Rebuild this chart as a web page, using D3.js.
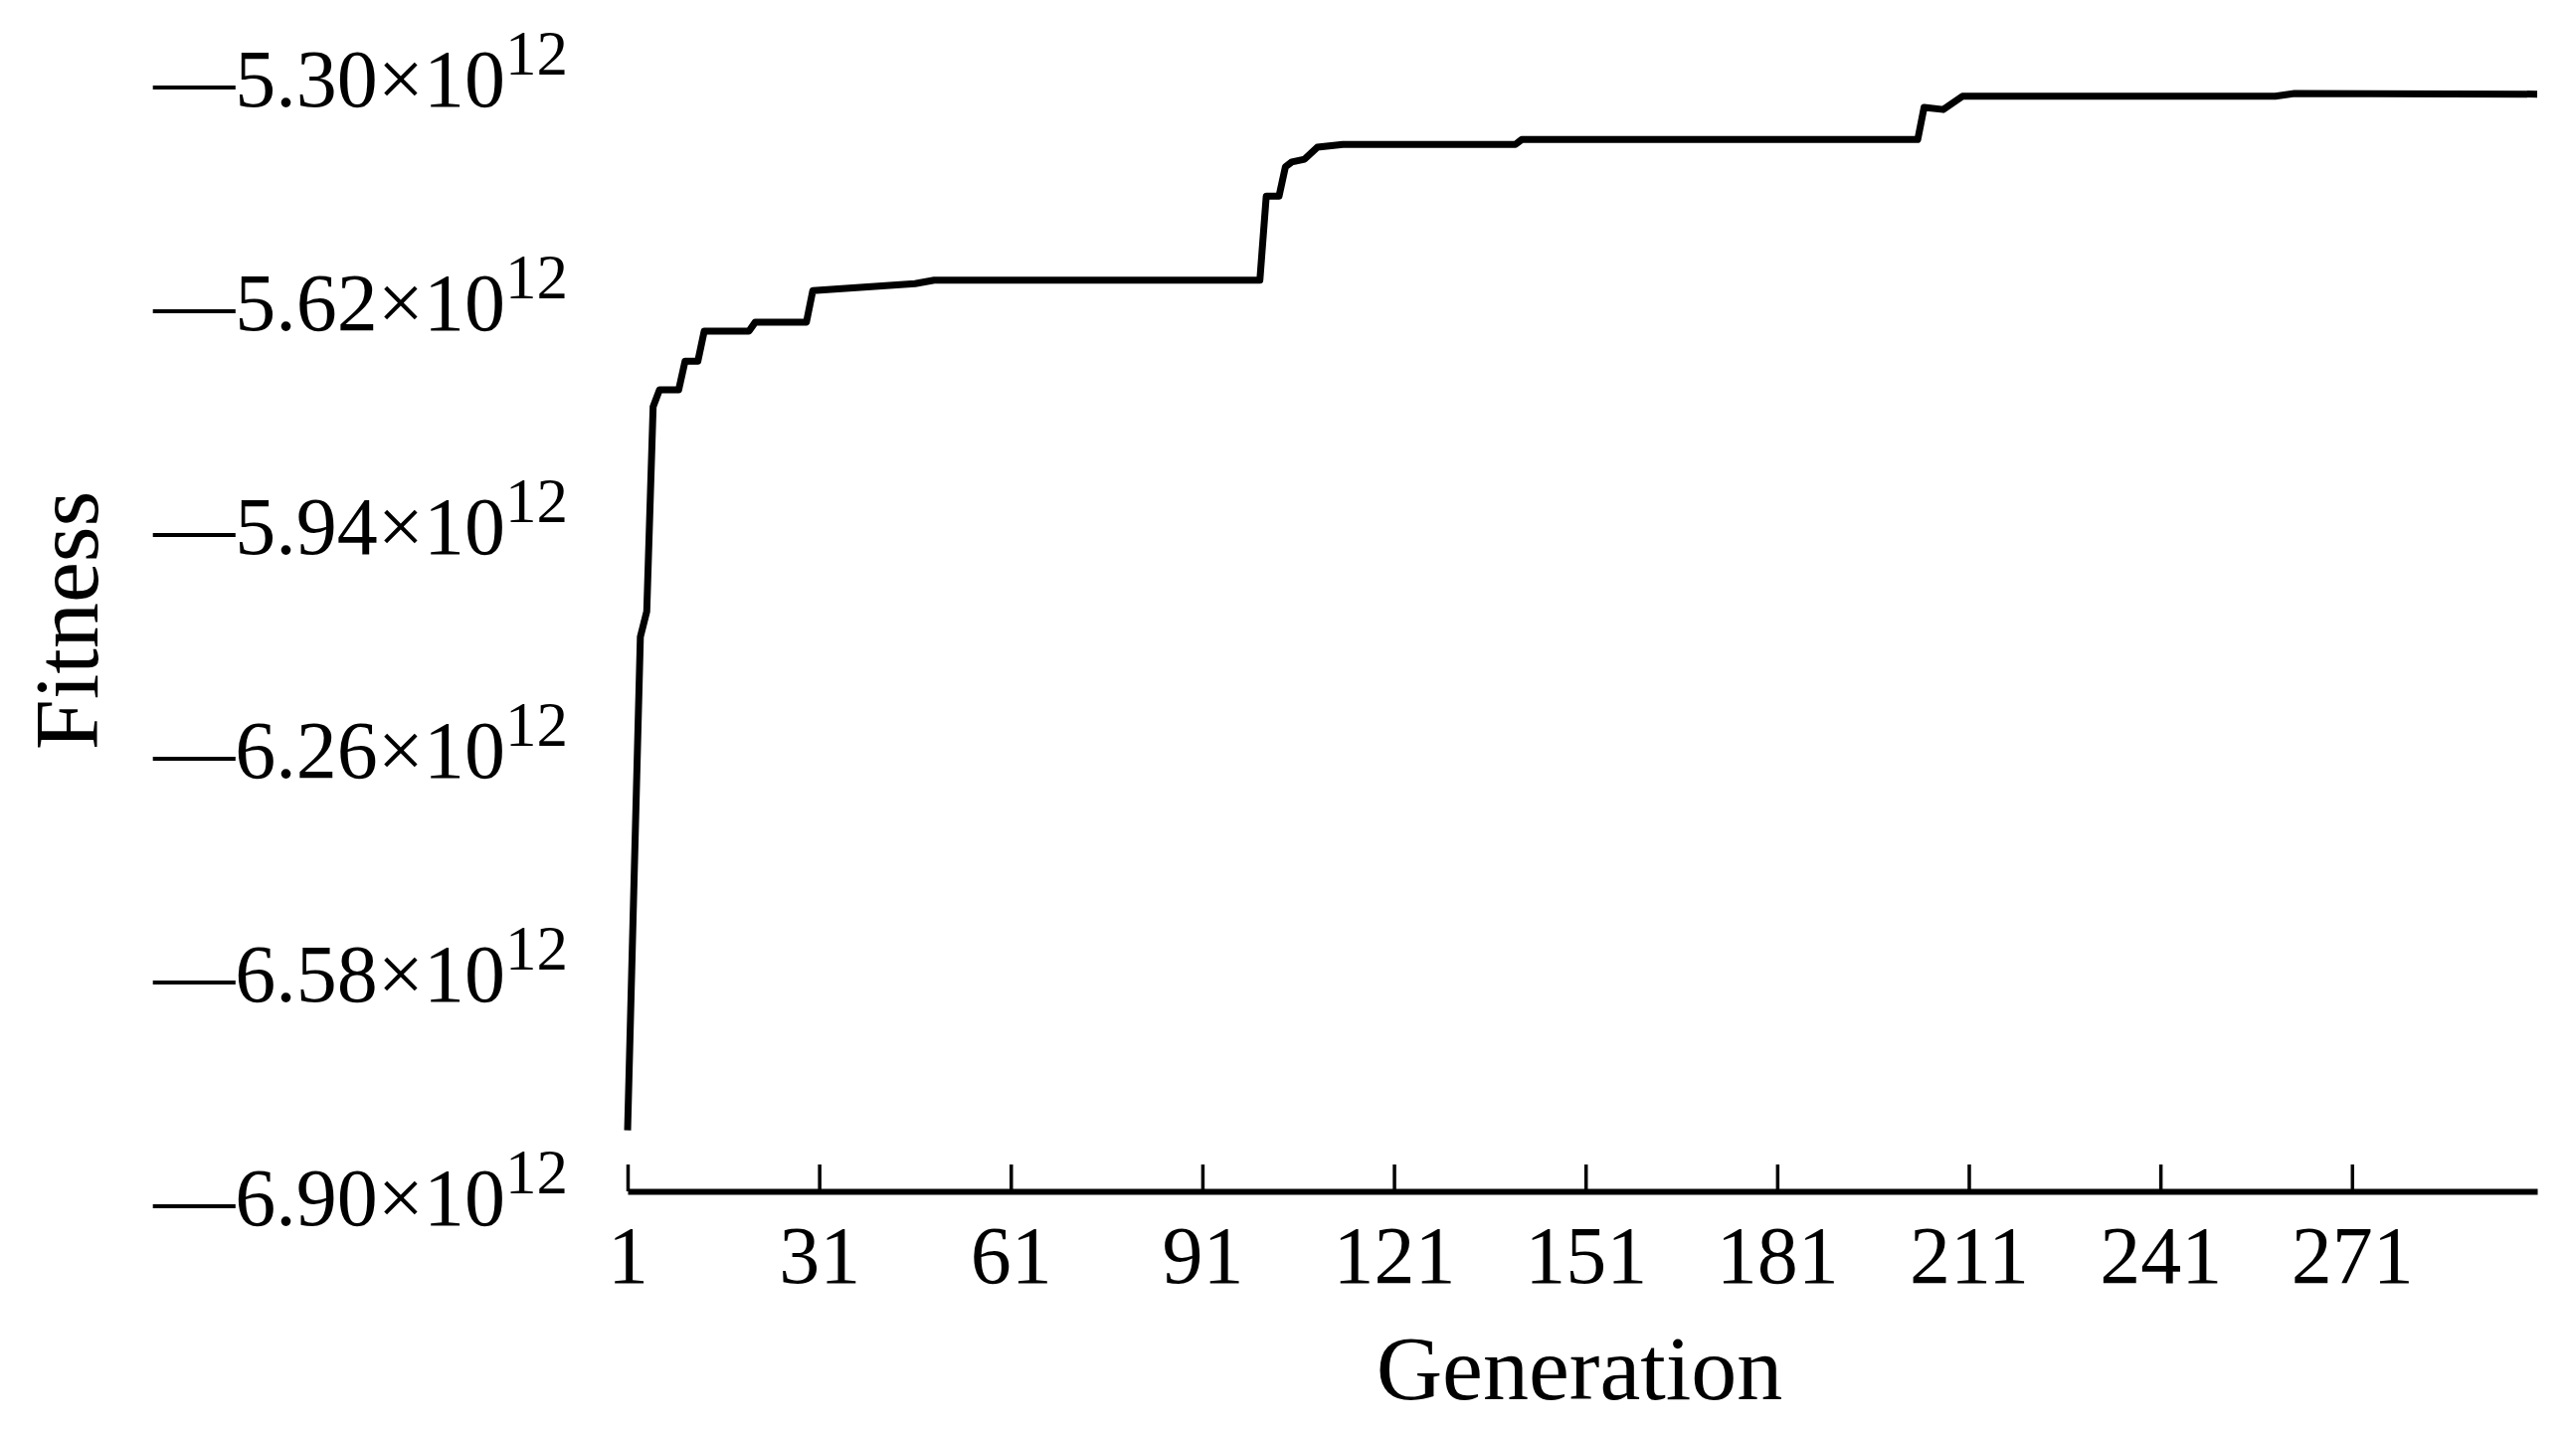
<!DOCTYPE html>
<html>
<head>
<meta charset="utf-8">
<script src="https://cdn.jsdelivr.net/npm/d3@7"></script>
<style>
  html, body { margin: 0; padding: 0; background: #fff; }
  svg { display: block; }
  text { font-family: "Liberation Serif", "Times New Roman", serif; fill: #000; }
</style>
</head>
<body>
<svg id="chart" width="2590" height="1440"></svg>
<script>
// ---- data ----
const generations = [1, 3, 4, 5, 6, 9, 10, 12, 13, 20, 21, 29, 30, 38, 46, 49, 100, 101, 103, 104, 105, 107, 109, 113, 140, 141, 203, 204, 207, 210, 259, 262, 300];
const fitness     = [-6.800, -6.094, -6.058, -5.765, -5.741, -5.741, -5.700, -5.700, -5.657, -5.657, -5.644, -5.644, -5.599, -5.594, -5.589, -5.584, -5.584, -5.464, -5.464, -5.422, -5.415, -5.411, -5.394, -5.390, -5.390, -5.383, -5.383, -5.337, -5.340, -5.321, -5.321, -5.317, -5.318]; // ×10^12
const xTicks = [1, 31, 61, 91, 121, 151, 181, 211, 241, 271];
const yTicks = [-6.90, -6.58, -6.26, -5.94, -5.62, -5.30];
const xTitle = "Generation";
const yTitle = "Fitness";

const svg = d3.select("#chart");

const x = d3.scaleLinear().domain([1, 300]).range([631, 2551]);
const y = d3.scaleLinear().domain([-6.90, -5.30]).range([1207, 82]);
const axisY = 1198;

// x axis
const xAxis = svg.append("g")
  .attr("transform", `translate(0,${axisY})`)
  .call(d3.axisBottom(x).tickValues(xTicks).tickSizeInner(-27).tickSizeOuter(0).tickFormat(d3.format("d")));
xAxis.select(".domain").attr("stroke", "#000").attr("stroke-width", 6);
xAxis.selectAll(".tick line").attr("stroke", "#000").attr("stroke-width", 3.5);
xAxis.selectAll(".tick text")
  .attr("y", 92).attr("dy", 0)
  .style("font-family", '"Liberation Serif", serif')
  .style("font-size", "82px")
  .attr("fill", "#000");

// y axis (labels only)
const yAxis = svg.append("g")
  .attr("transform", "translate(631,0)")
  .call(d3.axisLeft(y).tickValues(yTicks).tickSize(0).tickPadding(60));
yAxis.select(".domain").remove();
yAxis.selectAll(".tick text").each(function(d) {
  const t = d3.select(this);
  t.text(null).attr("x", -60).attr("dy", 0).attr("y", 24)
   .attr("text-anchor", "end")
   .style("font-family", '"Liberation Serif", serif')
   .style("font-size", "82px").attr("fill", "#000");
  t.append("tspan").text("\u2014" + d3.format(".2f")(Math.abs(d)) + "\u00d710");
  t.append("tspan").text("12").attr("dy", -32).style("font-size", "63px");
});

// line
const line = d3.line().x((d, i) => x(generations[i])).y(d => y(d));
svg.append("path")
  .datum(fitness)
  .attr("d", line)
  .attr("fill", "none")
  .attr("stroke", "#000")
  .attr("stroke-width", 7)
  .attr("stroke-linejoin", "round");

// titles
svg.append("text")
  .attr("x", 1588).attr("y", 1407)
  .attr("text-anchor", "middle")
  .style("font-size", "92px")
  .text(xTitle);
svg.append("text")
  .attr("transform", "translate(98,624) rotate(-90)")
  .attr("text-anchor", "middle")
  .style("font-size", "92px")
  .text(yTitle);
</script>
</body>
</html>
